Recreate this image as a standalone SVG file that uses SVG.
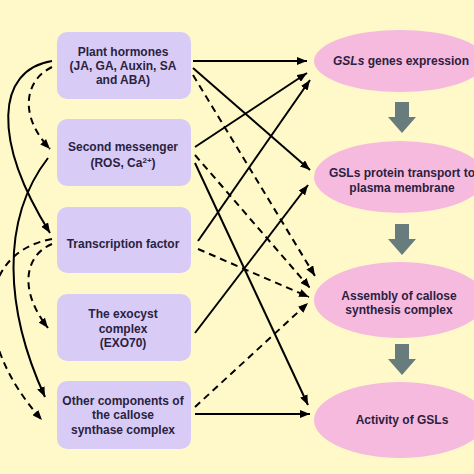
<svg xmlns="http://www.w3.org/2000/svg" width="474" height="474" viewBox="0 0 474 474">
<defs>
<marker id="ah" viewBox="0 0 10 8" refX="10" refY="4" markerWidth="10" markerHeight="8" markerUnits="userSpaceOnUse" orient="auto">
<path d="M0,0 L10,4 L0,8 z" fill="#000"/>
</marker>
<style>
.box{fill:#D8CCF7;}
.ell{fill:#F7BADF;}
.t{font-family:"Liberation Sans",Arial,sans-serif;font-weight:bold;font-size:12px;fill:#2A2240;text-anchor:middle;}
.c{fill:none;stroke:#000;stroke-width:2;marker-end:url(#ah);}
.d{stroke-dasharray:7,5;}
.blk{fill:#687B7D;}
</style>
</defs>
<rect x="0" y="0" width="474" height="474" fill="#FFF8C8"/>

<g id="n1"><rect class="box" x="57" y="32" width="134" height="67" rx="10"/>
<text class="t" x="123" y="56">Plant hormones</text>
<text class="t" x="123" y="70">(JA, GA, Auxin, SA</text>
<text class="t" x="123" y="84">and ABA)</text></g>

<g id="n2"><rect class="box" x="57" y="119" width="134" height="67" rx="10"/>
<text class="t" x="123" y="151">Second messenger</text>
<text class="t" x="123" y="167">(ROS, Ca<tspan font-size="8" dy="-4">2+</tspan><tspan dy="4">)</tspan></text></g>

<g id="n3"><rect class="box" x="57" y="207" width="134" height="66" rx="10"/>
<text class="t" x="123" y="248">Transcription factor</text></g>

<g id="n4"><rect class="box" x="57" y="294" width="134" height="67" rx="10"/>
<text class="t" x="123" y="318">The exocyst</text>
<text class="t" x="123" y="333">complex</text>
<text class="t" x="123" y="347">(EXO70)</text></g>

<g id="n5"><rect class="box" x="57" y="381" width="134" height="68" rx="10"/>
<text class="t" x="123" y="405">Other components of</text>
<text class="t" x="123" y="419">the callose</text>
<text class="t" x="123" y="434">synthase complex</text></g>

<g id="e1"><ellipse class="ell" cx="400" cy="61" rx="86" ry="31"/>
<text class="t" x="401" y="65"><tspan font-style="italic">GSLs</tspan> genes expression</text></g>

<g id="e2"><ellipse class="ell" cx="400" cy="177" rx="86" ry="36"/>
<text class="t" x="402" y="177">GSLs protein transport to</text>
<text class="t" x="402" y="192">plasma membrane</text></g>

<g id="e3"><ellipse class="ell" cx="400" cy="300" rx="86" ry="38"/>
<text class="t" x="399" y="300">Assembly of callose</text>
<text class="t" x="399" y="314">synthesis complex</text></g>

<g id="e4"><ellipse class="ell" cx="400" cy="420" rx="86" ry="38"/>
<text class="t" x="402" y="424">Activity of GSLs</text></g>

<g id="flow">
<polygon class="blk" points="395,102 409,102 409,117 416,117 402,133 388,117 395,117"/>
<polygon class="blk" points="395,224 409,224 409,239 416,239 402,255 388,239 395,239"/>
<polygon class="blk" points="395,344 409,344 409,359 416,359 402,375 388,359 395,359"/>
</g>

<g id="connectors">
<path class="c" d="M193,61 L307,61"/>
<path class="c" d="M193,68 L310,170"/>
<path class="c d" d="M193,75 L315,276"/>
<path class="c" d="M195,147 L307,73"/>
<path class="c d" d="M195,155 L310,288"/>
<path class="c" d="M195,163 L308,405"/>
<path class="c" d="M198,241 L310,80"/>
<path class="c d" d="M198,249 L309,297"/>
<path class="c" d="M195,333 L308,185"/>
<path class="c d" d="M195,407 L308,303"/>
<path class="c" d="M195,414 L310,414"/>

<path class="c" d="M52,61 C-4,70 -8,140 50,233"/>
<path class="c d" d="M52,67 C25,80 18,115 50,149"/>
<path class="c" d="M48,158 C0,220 5,310 45,397"/>
<path class="c d" d="M52,244 C25,255 18,290 48,328"/>
<path class="c d" d="M52,239 C-22,252 -30,340 42,420"/>
</g>
</svg>
